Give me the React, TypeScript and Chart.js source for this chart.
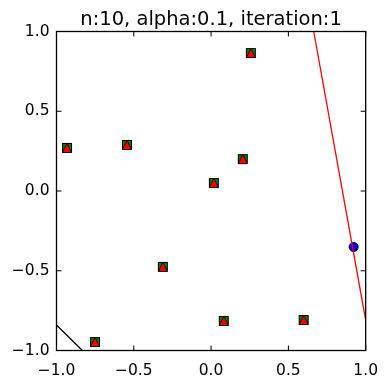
import React, { useEffect, useRef } from "react";
import { Chart, registerables } from "chart.js";

Chart.register(...registerables);

const TITLE = "n:10, alpha:0.1, iteration:1";
const pointsX = [-0.932, -0.544, 0.257, 0.205, 0.018, -0.312, -0.751, 0.082, 0.599];
const pointsY = [0.27, 0.289, 0.865, 0.2, 0.05, -0.476, -0.947, -0.815, -0.809];
const highlightX = [0.922];
const highlightY = [-0.351];
const redLineX = [0.664, 1.0];
const redLineY = [1.0, -0.809];
const blackLineX = [-1.0, -0.833];
const blackLineY = [-0.84, -1.0];
const tickValues = [-1, -0.5, 0, 0.5, 1];

const FONT = "'DejaVu Sans', sans-serif";

function fmt(v: number): string {
  const s = (Math.abs(v) < 1e-9 ? 0 : v).toFixed(1);
  return s.replace("-", "\u2212");
}

function zip(xs: number[], ys: number[]) {
  return xs.map((x, i) => ({ x, y: ys[i] }));
}

function makeMarker(): HTMLCanvasElement {
  const c = document.createElement("canvas");
  c.width = 12;
  c.height = 12;
  const g = c.getContext("2d")!;
  g.fillStyle = "#008000";
  g.fillRect(1, 1, 10, 10);
  g.strokeStyle = "#000";
  g.lineWidth = 1;
  g.strokeRect(1.5, 1.5, 9, 9);
  g.beginPath();
  g.moveTo(6, 1.2);
  g.lineTo(1.5, 10.5);
  g.lineTo(10.5, 10.5);
  g.closePath();
  g.fillStyle = "#ff0000";
  g.fill();
  g.lineWidth = 0.8;
  g.stroke();
  return c;
}

const framePlugin = {
  id: "frame",
  afterDatasetsDraw(chart: any) {
    const { ctx, chartArea: a, scales } = chart;
    ctx.save();
    ctx.strokeStyle = "#000";
    ctx.lineWidth = 1;
    const L = 5;
    for (const v of tickValues) {
      const px = scales.x.getPixelForValue(v);
      ctx.beginPath();
      ctx.moveTo(px, a.bottom);
      ctx.lineTo(px, a.bottom - L);
      ctx.moveTo(px, a.top);
      ctx.lineTo(px, a.top + L);
      ctx.stroke();
      const py = scales.y.getPixelForValue(v);
      ctx.beginPath();
      ctx.moveTo(a.left, py);
      ctx.lineTo(a.left + L, py);
      ctx.moveTo(a.right, py);
      ctx.lineTo(a.right - L, py);
      ctx.stroke();
    }
    ctx.lineWidth = 1.3;
    ctx.strokeRect(a.left, a.top, a.right - a.left, a.bottom - a.top);
    // title centred over the plot area
    ctx.fillStyle = "#000";
    ctx.font = `19.5px ${FONT}`;
    ctx.textAlign = "center";
    ctx.textBaseline = "alphabetic";
    ctx.fillText(TITLE, (a.left + a.right) / 2, 25);
    ctx.restore();
  },
};

export default function App() {
  const ref = useRef<HTMLCanvasElement | null>(null);
  useEffect(() => {
    if (!ref.current) return;
    const marker = makeMarker();
    const chart = new Chart(ref.current, {
      type: "scatter",
      data: {
        datasets: [
          {
            data: zip(redLineX, redLineY),
            showLine: true,
            borderColor: "#ff0000",
            borderWidth: 1.3,
            pointRadius: 0,
          },
          {
            data: zip(highlightX, highlightY),
            pointStyle: "circle",
            pointRadius: 4.5,
            backgroundColor: "#0000ff",
            borderColor: "#000",
            borderWidth: 1,
          },
          {
            data: zip(pointsX, pointsY),
            pointStyle: marker as any,
            pointRadius: 6,
          },
          {
            data: zip(blackLineX, blackLineY),
            showLine: true,
            borderColor: "#000",
            borderWidth: 1.3,
            pointRadius: 0,
          },
        ],
      },
      options: {
        responsive: false,
        animation: false,
        events: [],
        layout: { padding: { top: 31.5, right: 23, bottom: 0, left: 0 } },
        plugins: {
          legend: { display: false },
          tooltip: { enabled: false },
          title: { display: false },
        },
        scales: {
          x: {
            type: "linear",
            min: -1,
            max: 1,
            grid: { display: false, drawTicks: false },
            border: { display: false },
            afterBuildTicks: (s: any) => {
              s.ticks = tickValues.map((v) => ({ value: v }));
            },
            afterFit: (s: any) => {
              s.height = 34.5;
            },
            ticks: {
              color: "#000",
              font: { family: FONT, size: 15.5 },
              padding: 11,
              maxRotation: 0,
              autoSkip: false,
              callback: (v: any) => fmt(Number(v)),
            },
          },
          y: {
            type: "linear",
            min: -1,
            max: 1,
            grid: { display: false, drawTicks: false },
            border: { display: false },
            afterBuildTicks: (s: any) => {
              s.ticks = tickValues.map((v) => ({ value: v }));
            },
            afterFit: (s: any) => {
              s.width = 56.5;
            },
            ticks: {
              color: "#000",
              font: { family: FONT, size: 15.5 },
              padding: 7,
              autoSkip: false,
              callback: (v: any) => fmt(Number(v)),
            },
          },
        },
      },
      plugins: [framePlugin],
    });
    return () => chart.destroy();
  }, []);
  return (
    <div style={{ position: "absolute", left: 0, top: 0, width: 389, height: 385, background: "#fff" }}>
      <canvas ref={ref} width={389} height={385} />
    </div>
  );
}
